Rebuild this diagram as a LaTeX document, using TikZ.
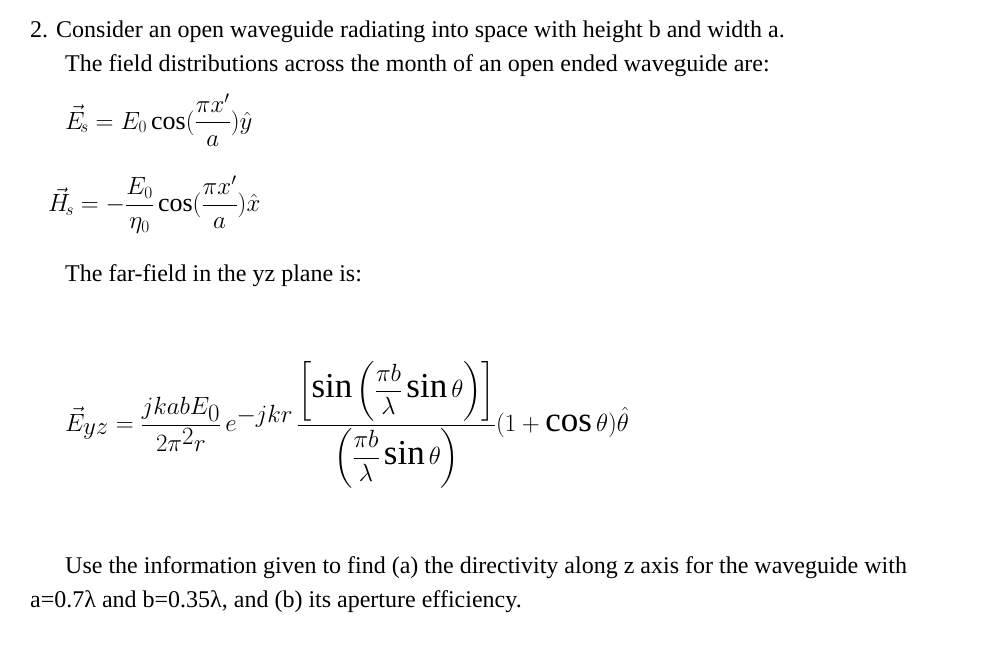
\documentclass[tikz,border=0pt]{standalone}
\usepackage{amsmath}
\usepackage{fontspec}
\setmainfont{Liberation Serif}
\begin{document}
\begin{tikzpicture}[x=1pt,y=1pt,
  txt/.style={anchor=base west,inner sep=0pt,font=\fontsize{24}{28}\selectfont},
  eq/.style={anchor=west,inner sep=0pt,font=\fontsize{26}{30}\selectfont},
  bigeq/.style={anchor=west,inner sep=0pt,font=\fontsize{35}{39}\selectfont}]
\useasboundingbox[fill=white] (0,0) rectangle (983,-668);
\node[txt] (l1) at (30,-38) {2. Consider an open waveguide radiating into space with height b and width a.};
\node[txt] (l2) at (65,-72) {The field distributions across the month of an open ended waveguide are:};
\node[eq] (e1) at (65,-120) {$\vec{E}_{\!s}=E_0\cos(\dfrac{\pi x'}{a})\hat{y}$};
\node[eq] (e2) at (48,-205) {$\vec{H}_{\!s}=-\dfrac{E_0}{\eta_0}\cos(\dfrac{\pi x'}{a})\hat{x}$};
\node[txt] (l3) at (65,-282) {The far-field in the yz plane is:};
\node[bigeq] (e3) at (65,-425) {$\vec{E}_{yz}=\dfrac{jkabE_0}{2\pi^2 r}\,e^{-jkr}\,
 \dfrac{\left[\sin\left(\dfrac{\pi b}{\lambda}\sin\theta\right)\right]}{\left(\dfrac{\pi b}{\lambda}\sin\theta\right)}(1+\cos\theta)\hat{\theta}$};
\node[txt] (l4) at (65,-573) {Use the information given to find (a) the directivity along z axis for the waveguide with};
\node[txt] (l5) at (30,-607) {a=0.7λ and b=0.35λ, and (b) its aperture efficiency.};
\end{tikzpicture}
\end{document}
